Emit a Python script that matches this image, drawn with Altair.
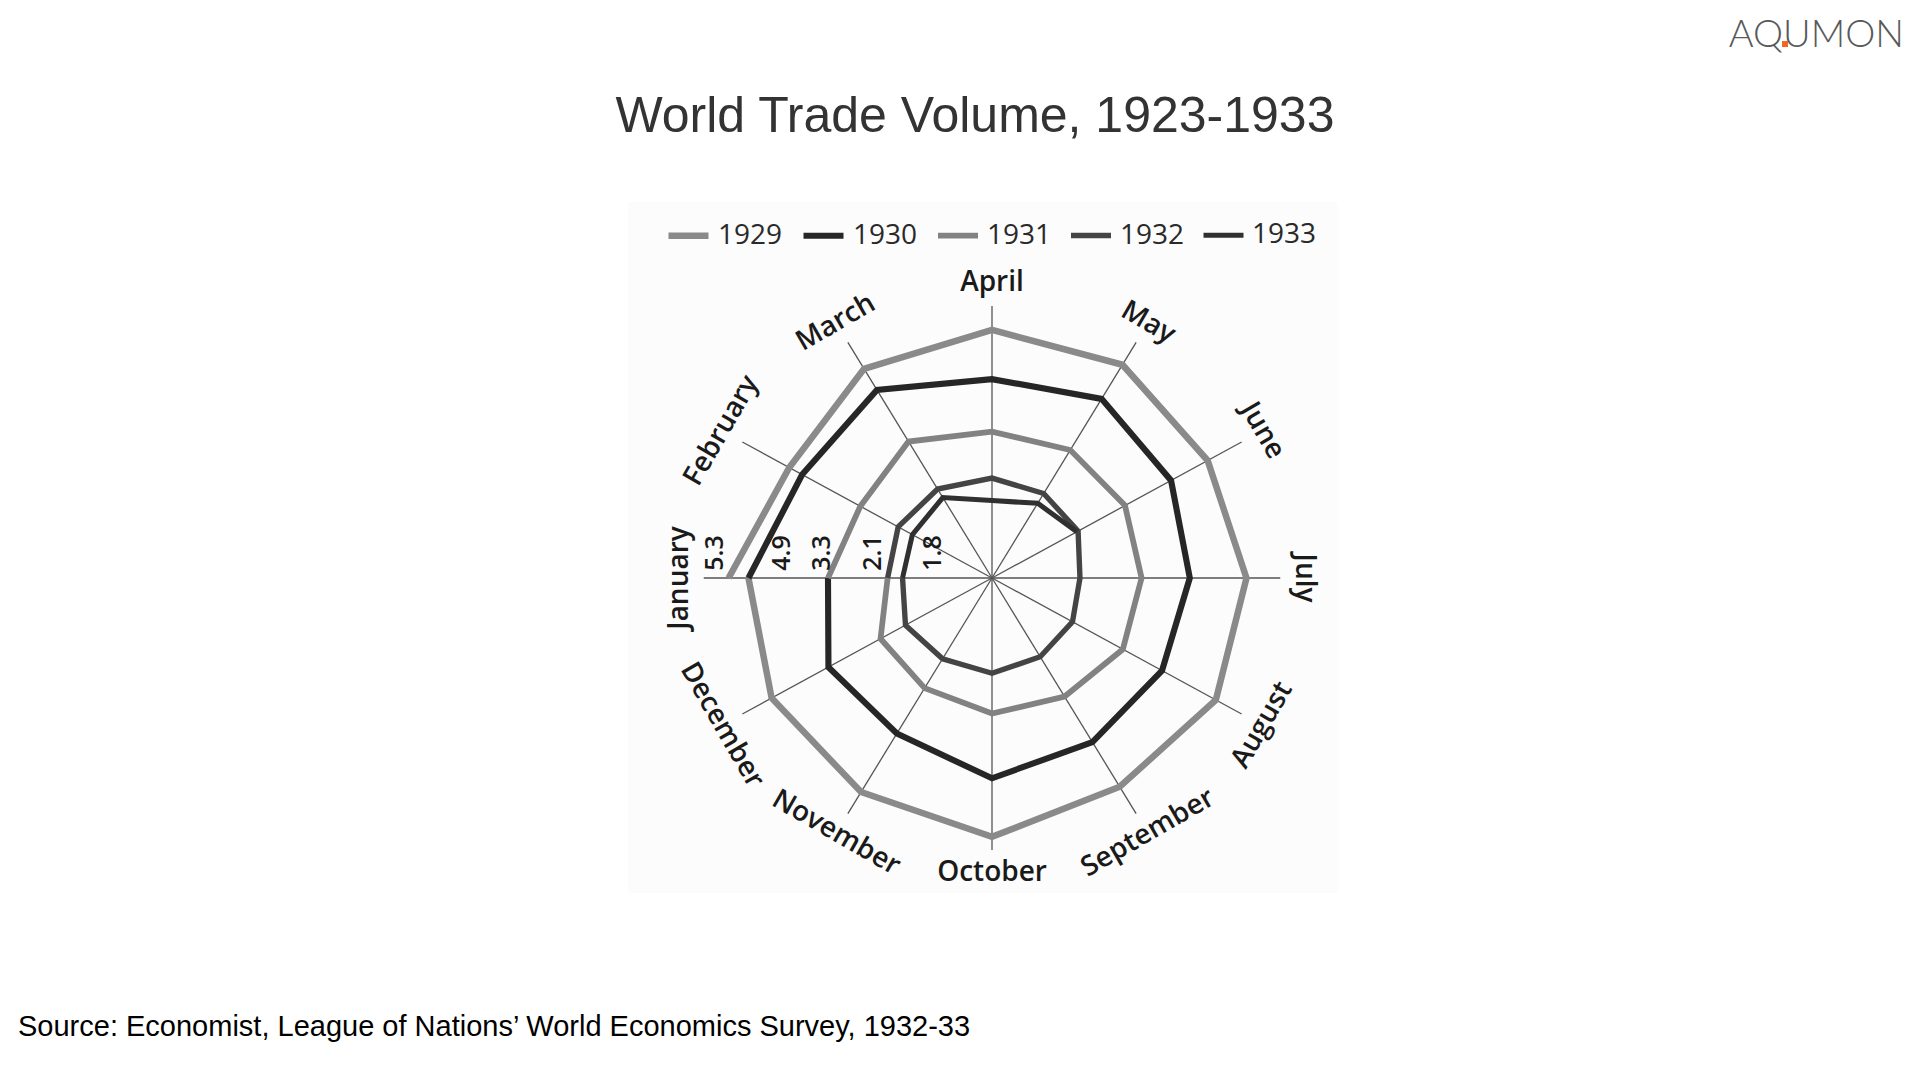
import altair as alt
import numpy as np
import pandas as pd

# -----------------------------------------------------------------------------
# DATA (read off the reference spiral; January values match the printed labels)
# -----------------------------------------------------------------------------
MONTHS = ["January", "February", "March", "April", "May", "June",
          "July", "August", "September", "October", "November", "December"]
YEARS = ["1929", "1930", "1931", "1932", "1933"]

V1929 = [5.3, 4.71, 5.15, 5.29, 5.25, 5.01, 5.12, 5.20, 5.14, 5.52, 5.27, 5.12]
V1930 = [4.9, 4.41, 4.63, 4.24, 4.41, 4.16, 3.98, 3.95, 4.04, 4.27, 3.83, 3.80]
V1931 = [3.3, 3.06, 3.36, 3.12, 3.15, 3.09, 3.01, 3.04, 2.92, 2.89, 2.71, 2.59]
V1932 = [2.1, 2.18, 2.19, 2.13, 2.08, 2.00, 1.77, 1.87, 1.94, 2.03, 1.99, 2.01]
V1933 = [1.8, 1.85, 1.98, 1.65, 1.84, 1.97]
SERIES = [V1929, V1930, V1931, V1932, V1933]

JAN_LABELS = ["5.3", "4.9", "3.3", "2.1", "1.8"]

TITLE = "World Trade Volume, 1923-1933"
SOURCE = "Source: Economist, League of Nations\u2019 World Economics Survey, 1932-33"
LOGO = "AQUMON"

# -----------------------------------------------------------------------------
# STYLE / LAYOUT
# -----------------------------------------------------------------------------
W, H = 1903, 1040          # whole view, padding 0
CX, CY = 984, 570          # spiral centre in view pixels
SX, SY = 49.7, 46.9        # pixels per unit (the scan is slightly stretched)
SPOKE_R = 5.8
MONTH_R = 6.28

YEAR_COLORS = ["#8a8a8a", "#262626", "#828282", "#444444", "#303030"]
YEAR_WIDTHS = [6.5, 5, 6, 5, 4.5]
JAN_LABEL_SHIFT = [-13.5, 33.5, -6, -14.5, 30.5]   # px along the January spoke
JAN_LABEL_LIFT = 25                                # px above the spoke

FONT = "Open Sans"

# -----------------------------------------------------------------------------
# GEOMETRY
# -----------------------------------------------------------------------------
def month_angle(i):
    # January on the left, running clockwise: April top, July right
    return np.deg2rad(180 - 30 * i)


rows = []
for k, (yr, vals) in enumerate(zip(YEARS, SERIES)):
    pts = list(enumerate(vals))
    if k + 1 < len(SERIES):
        pts.append((12, SERIES[k + 1][0]))  # spiral runs on into next January
    for seq, (i, v) in enumerate(pts):
        a = month_angle(i)
        rows.append({"year": yr, "seq": seq, "value": v,
                     "x": v * np.cos(a), "y": v * np.sin(a)})
lines_df = pd.DataFrame(rows)

spokes_df = pd.DataFrame({
    "month": MONTHS,
    "x0": 0.0, "y0": 0.0,
    "x1": [SPOKE_R * np.cos(month_angle(i)) for i in range(12)],
    "y1": [SPOKE_R * np.sin(month_angle(i)) for i in range(12)],
})


def label_rot(i):
    r = 30 * i - 90
    if r > 90:
        r -= 180
    return r % 360


months_df = pd.DataFrame({
    "month": MONTHS,
    "x": [MONTH_R * np.cos(month_angle(i)) for i in range(12)],
    "y": [MONTH_R * np.sin(month_angle(i)) for i in range(12)],
    "rot": [label_rot(i) for i in range(12)],
})

jan_df = pd.DataFrame({
    "label": JAN_LABELS,
    "x": [(-s[0] * SX + d) / SX for s, d in zip(SERIES, JAN_LABEL_SHIFT)],
    "y": JAN_LABEL_LIFT / SY,
})

x_scale = alt.Scale(domain=[-CX / SX, (W - CX) / SX], nice=False, zero=False)
y_scale = alt.Scale(domain=[-(H - CY) / SY, CY / SY], nice=False, zero=False)

# -----------------------------------------------------------------------------
# LAYERS
# -----------------------------------------------------------------------------
backdrop = alt.Chart(pd.DataFrame({"a": [0]})).mark_rect(color="#fcfcfc").encode(
    x=alt.value(620), x2=alt.value(1330), y=alt.value(194), y2=alt.value(885)
)

spokes = alt.Chart(spokes_df).mark_rule(color="#555555", strokeWidth=1.3).encode(
    x=alt.X("x0:Q", scale=x_scale, axis=None),
    y=alt.Y("y0:Q", scale=y_scale, axis=None),
    x2="x1:Q",
    y2="y1:Q",
)

spiral = alt.Chart(lines_df).mark_line(strokeJoin="miter", strokeCap="butt").encode(
    x=alt.X("x:Q", scale=x_scale, axis=None),
    y=alt.Y("y:Q", scale=y_scale, axis=None),
    order=alt.Order("seq:Q"),
    color=alt.Color(
        "year:N",
        scale=alt.Scale(domain=YEARS, range=YEAR_COLORS),
        legend=alt.Legend(
            title=None, orient="none", legendX=657, legendY=204,
            direction="horizontal", symbolType="stroke", symbolSize=1600,
            symbolStrokeWidth=6, symbolOpacity=1, labelFont=FONT,
            labelFontSize=28, labelColor="#2a2a2a", labelOffset=6,
            columnPadding=8, padding=0,
        ),
    ),
    strokeWidth=alt.StrokeWidth(
        "year:N", scale=alt.Scale(domain=YEARS, range=YEAR_WIDTHS), legend=None
    ),
)

month_labels = alt.Chart(months_df).mark_text(
    font=FONT, fontSize=28, fontWeight=600, color="#1a1a1a", align="center",
    baseline="middle",
).encode(
    x=alt.X("x:Q", scale=x_scale, axis=None),
    y=alt.Y("y:Q", scale=y_scale, axis=None),
    text="month:N",
    angle=alt.Angle("rot:Q", scale=None),
)

jan_labels = alt.Chart(jan_df).mark_text(
    font=FONT, fontSize=25, fontWeight=600, color="#1a1a1a", align="center",
    baseline="middle", angle=270,
).encode(
    x=alt.X("x:Q", scale=x_scale, axis=None),
    y=alt.Y("y:Q", scale=y_scale, axis=None),
    text="label:N",
)

title = alt.Chart(pd.DataFrame({"t": [TITLE]})).mark_text(
    font="Liberation Sans", fontSize=50, color="#333333", align="center",
    baseline="alphabetic",
).encode(x=alt.value(967), y=alt.value(124), text="t:N")

source = alt.Chart(pd.DataFrame({"t": [SOURCE]})).mark_text(
    font="Liberation Sans", fontSize=29, color="#000000", align="left",
    baseline="alphabetic",
).encode(x=alt.value(10), y=alt.value(1028), text="t:N")

logo = alt.Chart(pd.DataFrame({"t": [LOGO]})).mark_text(
    font="Lato", fontWeight=300, fontSize=38, color="#58595b", align="right",
    baseline="alphabetic",
).encode(x=alt.value(1896), y=alt.value(39), text="t:N")

logo_dot = alt.Chart(pd.DataFrame({"a": [0]})).mark_rect(color="#f26522").encode(
    x=alt.value(1774), x2=alt.value(1780), y=alt.value(33), y2=alt.value(39)
)

chart = alt.layer(
    backdrop, spokes, spiral, month_labels, jan_labels, title, source, logo, logo_dot
).properties(
    width=W, height=H, padding=0, autosize=alt.AutoSizeParams(type="none"),
    background="white",
).configure_view(stroke=None)

chart.save("out.html", embed_options={"renderer": "svg", "actions": False})
